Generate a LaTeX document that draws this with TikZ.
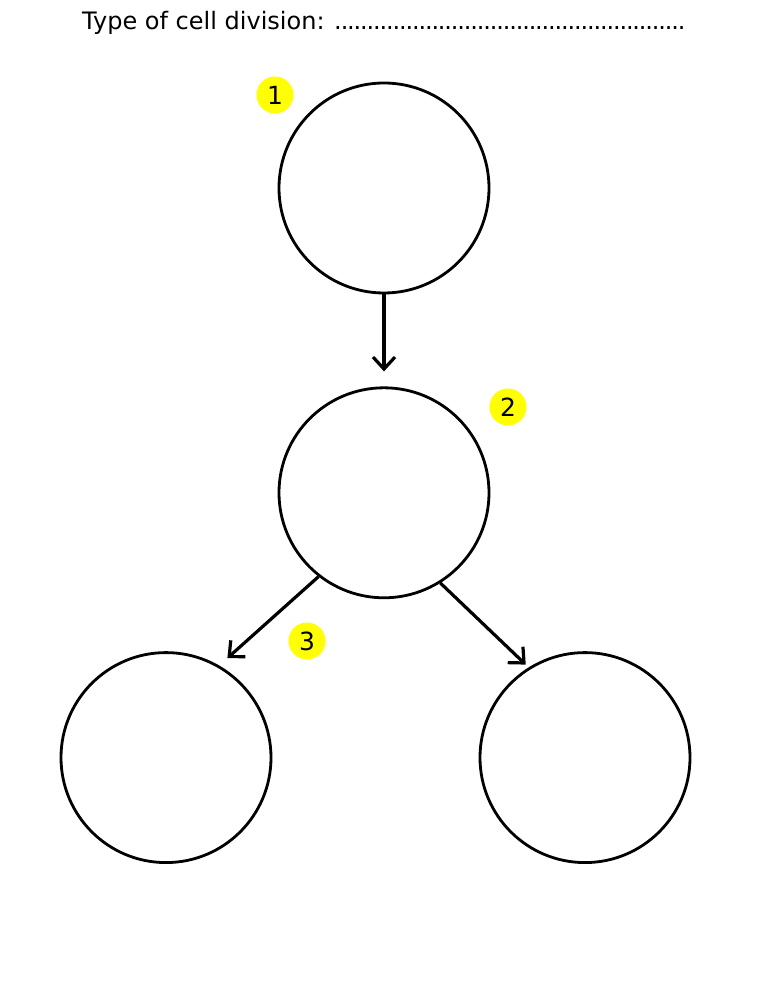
\documentclass[tikz,border=0pt]{standalone}
\usepackage{fontspec}
\setmainfont{DejaVu Sans}
\usepackage{xcolor}
\usepackage{tikz}
\usetikzlibrary{arrows.meta, positioning}

\definecolor{badgeyellow}{HTML}{FFFF00}

\begin{document}
\begin{tikzpicture}[x=1pt, y=1pt,
        cell/.style={circle, draw, line width=2.8pt, minimum size=210pt, inner sep=0pt},
        badge/.style={circle, fill=badgeyellow, minimum size=37pt, inner sep=0pt, font=\fontsize{25}{25}\selectfont},
        line/.style={draw, line width=3.2pt, -{Straight Barb[length=12pt, width=22pt, line width=3.2pt]}}]

        \useasboundingbox (0,0) rectangle (768,994);

        % Title
        \node [anchor=base west, inner sep=0pt, font=\fontsize{24}{24}\selectfont] (title) at (82,964)
            {Type of cell division: \xleaders\hbox to 6.4pt{\hss.\hss}\hskip 350pt\hbox{}};

        % Nodes
        \node [cell] (parent) at (384,806) {};
        \node [cell, below=92pt of parent] (middle) {};
        \node [cell, below=52pt of middle, xshift=-218pt] (left) {};
        \node [cell, below=52pt of middle, xshift=201pt] (right) {};

        \node [badge] (one) at (275,899) {1};
        \node [badge] (two) at (508,587) {2};
        \node [badge] (three) at (307,353) {3};

        % Edges
        \path [line, shorten >=15pt] (parent.south) -- (middle.north);
        \path [line, shorten >=11pt] (middle.232) -- (left.60);
        \path [line, shorten >=4pt] (middle.302) -- (right.122);
    \end{tikzpicture}
\end{document}
